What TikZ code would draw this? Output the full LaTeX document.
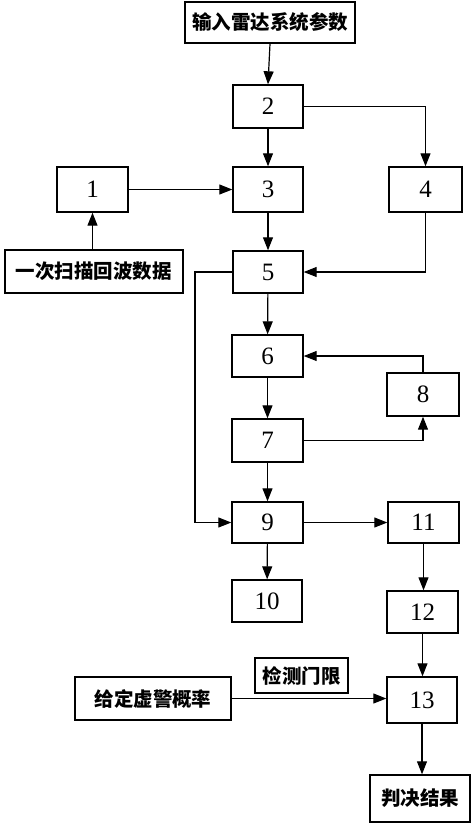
\documentclass[tikz,border=0pt]{standalone}
\usepackage{fontspec}
\setmainfont{Liberation Serif}
\newfontfamily\cjk{Noto Sans CJK SC}
\usetikzlibrary{arrows.meta}
\begin{document}
\begin{tikzpicture}[x=1pt,y=-1pt,
  box/.style={draw,line width=1.4pt,inner sep=0pt,anchor=center},
  num/.style={box,font=\fontsize{25}{25}\selectfont},
  txt/.style={box,font=\cjk\bfseries\fontsize{19.5}{19.5}\selectfont},
  arr/.style={line width=1.2pt,-{Triangle[length=13pt,width=10pt]}}]
\useasboundingbox (0,0) rectangle (474,823);
\node[txt,minimum width=170pt,minimum height=41pt] (top) at (270,22.5) {输入雷达系统参数};
\node[num,minimum width=70pt,minimum height=43pt] (n2) at (268,106.5) {2};
\node[num,minimum width=71pt,minimum height=45pt] (n1) at (92.5,189.5) {1};
\node[num,minimum width=70pt,minimum height=45pt] (n3) at (268,189.5) {3};
\node[num,minimum width=73pt,minimum height=45pt] (n4) at (425.5,189.5) {4};
\node[txt,minimum width=178pt,minimum height=43pt] (src) at (94,271.5) {一次扫描回波数据};
\node[num,minimum width=70pt,minimum height=42pt] (n5) at (268,272) {5};
\node[num,minimum width=71pt,minimum height=42pt] (n6) at (267.5,356) {6};
\node[num,minimum width=72pt,minimum height=43pt] (n8) at (423,394.5) {8};
\node[num,minimum width=71pt,minimum height=43pt] (n7) at (267.5,440.5) {7};
\node[num,minimum width=71pt,minimum height=41pt] (n9) at (267.5,522.5) {9};
\node[num,minimum width=71pt,minimum height=41pt] (n11) at (423.5,522.5) {11};
\node[num,minimum width=70pt,minimum height=42pt] (n10) at (267,601) {10};
\node[num,minimum width=71pt,minimum height=42pt] (n12) at (422.5,612) {12};
\node[num,minimum width=70pt,minimum height=46pt] (n13) at (422,700) {13};
\node[txt,minimum width=156pt,minimum height=43pt] (fa) at (153,698.5) {给定虚警概率};
\node[txt,minimum width=93pt,minimum height=35pt] (th) at (301.5,675.5) {检测门限};
\node[txt,minimum width=100pt,minimum height=47pt] (out) at (420,798.5) {判决结果};
\draw[arr] (top.south) -- (n2.north);
\draw[arr] (n2) -- (n3);
\draw[arr] (n3) -- (n5);
\draw[arr] (n5) -- (n6);
\draw[arr] (n6) -- (n7);
\draw[arr] (n7) -- (n9);
\draw[arr] (n9) -- (n10);
\draw[arr] (n1) -- (n3);
\draw[arr] (src.north -| n1) -- (n1.south);
\draw[arr] (n2.east) -| (n4.north);
\draw[arr] (n4.south) |- (n5.east);
\coordinate (c5) at (195,272);
\draw[arr] (n5.west) -- (c5) |- (n9.west);
\draw[arr] (n7.east) -| (n8.south);
\draw[arr] (n8.north) |- (n6.east);
\draw[arr] (n9) -- (n11);
\draw[arr] (n11.south) -- (n11.south |- n12.north);
\draw[arr] (n12.south) -- (n12.south |- n13.north);
\draw[arr] (fa.east) -- (fa.east -| n13.west);
\draw[arr] (n13.south) -- (n13.south |- out.north);
\end{tikzpicture}
\end{document}
